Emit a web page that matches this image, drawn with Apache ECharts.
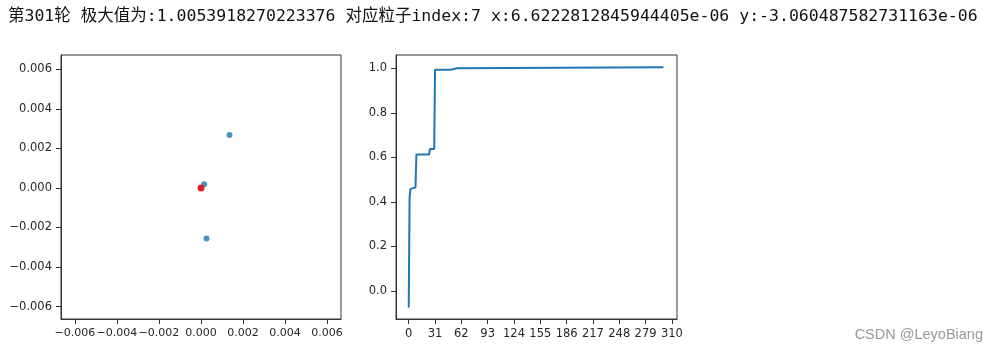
<!DOCTYPE html>
<html>
<head>
<meta charset="utf-8">
<script src="https://cdn.jsdelivr.net/npm/echarts@6/dist/echarts.min.js"></script>
<style>
html,body{margin:0;padding:0;background:#fff;}
#chart{width:990px;height:351px;}
</style>
</head>
<body>
<div id="chart"></div>
<script>
// ---- data ----
const titleText = '第301轮 极大值为:1.0053918270223376 对应粒子index:7 x:6.6222812845944405e-06 y:-3.060487582731163e-06';
const particleX = [0.00136, 0.000157, 0.000266, 0.0000066];
const particleY = [0.00268, 0.00019, -0.00255, -0.0000031];
const bestX = [6.6222812845944405e-06];
const bestY = [-3.060487582731163e-06];
const scatterTicks = [-0.006, -0.004, -0.002, 0, 0.002, 0.004, 0.006];
const iterations = [0, 1, 2, 3, 8, 9, 24, 25, 30, 31, 49, 50, 57, 58, 300];
const bestValues = [-0.075, 0.42, 0.458, 0.465, 0.465, 0.613, 0.613, 0.637, 0.637, 0.994, 0.994, 1.0, 1.0, 1.0054, 1.0054];
const iterTicks = [0, 31, 62, 93, 124, 155, 186, 217, 248, 279, 310];
const valueTicks = [0, 0.2, 0.4, 0.6, 0.8, 1.0];
const watermark = 'CSDN @LeyoBiang';

const chart = echarts.init(document.getElementById('chart'), null, {renderer: 'canvas'});
const labelColor = '#262626';
const axisColor = '#333';
const fmtSci = v => (v < 0 ? '\u2212' : '') + Math.abs(v).toFixed(3);
const fmtOne = v => (v < 0 ? '\u2212' : '') + Math.abs(v).toFixed(1);

function valAxis(gridIndex, min, max, ticks, fmt, pos, fs) {
  return {
    type: 'value', gridIndex, min, max, position: pos,
    axisLine: {show: true, onZero: false, lineStyle: {color: axisColor, width: 1}},
    axisTick: {show: true, length: 5, inside: false, customValues: ticks, lineStyle: {color: axisColor}},
    axisLabel: {show: true, customValues: ticks, formatter: fmt, color: labelColor,
                fontSize: fs || 11.5, fontFamily: 'DejaVu Sans', margin: 9, hideOverlap: false, showMinLabel: true, showMaxLabel: true},
    splitLine: {show: false}
  };
}

const sxy = particleX.map((x, i) => [x, particleY[i]]);
const bxy = bestX.map((x, i) => [x, bestY[i]]);
const lineData = iterations.map((x, i) => [x, bestValues[i]]);

chart.setOption({
  animation: false,
  backgroundColor: '#fff',
  title: {
    text: titleText, left: 8, top: 8, padding: 0,
    textStyle: {fontFamily: 'DejaVu Sans Mono, "Noto Sans CJK SC", monospace', fontSize: 16.5, fontWeight: 'normal', color: '#111'}
  },
  graphic: [{
    type: 'text', right: 7, top: 327,
    style: {text: watermark, fill: '#9a9a9a', font: '14.5px "Liberation Sans", Arial, sans-serif'}
  }],
  grid: [
    {left: 61, top: 55, width: 280, height: 264, show: true, borderColor: axisColor, borderWidth: 1},
    {left: 396, top: 55, width: 281, height: 264, show: true, borderColor: axisColor, borderWidth: 1}
  ],
  xAxis: [
    valAxis(0, -0.00666, 0.00667, scatterTicks, fmtSci, 'bottom', 11),
    valAxis(1, -15, 316, iterTicks, v => String(v), 'bottom')
  ],
  yAxis: [
    valAxis(0, -0.00663, 0.00673, scatterTicks, fmtSci, 'left'),
    valAxis(1, -0.127, 1.06, valueTicks, fmtOne, 'left')
  ],
  series: [
    {type: 'scatter', xAxisIndex: 0, yAxisIndex: 0, data: sxy, symbolSize: 6,
     itemStyle: {color: '#1f77b4'}},
    {type: 'scatter', xAxisIndex: 0, yAxisIndex: 0, data: bxy, symbolSize: 7,
     itemStyle: {color: '#ff0000'}},
    {type: 'line', xAxisIndex: 1, yAxisIndex: 1, data: lineData, showSymbol: false,
     lineStyle: {color: '#1f77b4', width: 2}}
  ]
});
</script>
</body>
</html>
